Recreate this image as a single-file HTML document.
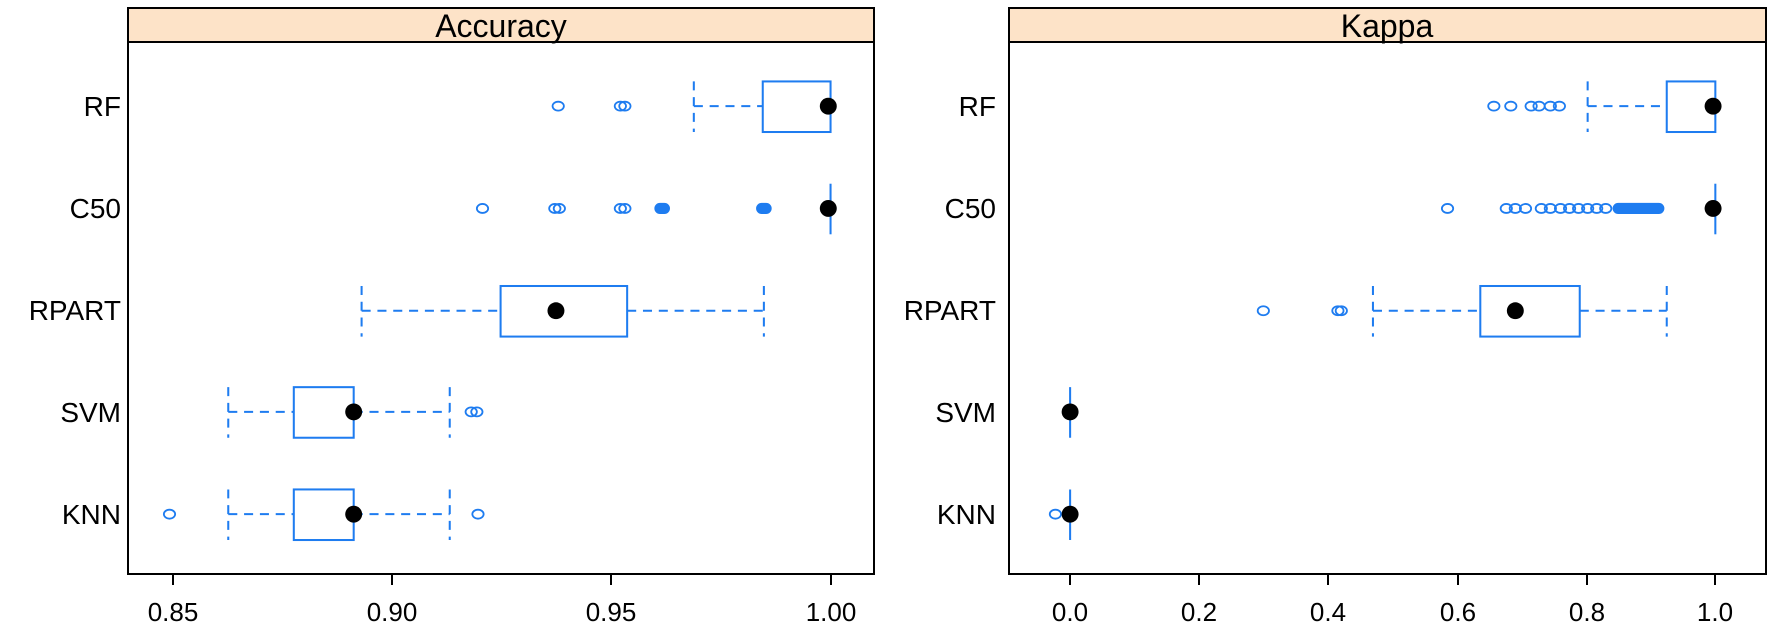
<!DOCTYPE html>
<html><head><style>body{margin:0;background:#fff;overflow:hidden}</style></head><body>
<svg width="1772" height="627" xmlns="http://www.w3.org/2000/svg" font-family="Liberation Sans, sans-serif">
<g stroke="#000" stroke-width="2" fill="none">
<rect x="128" y="8" width="746" height="566" fill="#fff"/>
<rect x="128" y="8" width="746" height="34" fill="#fde3c8"/>
<rect x="1009" y="8" width="757" height="566" fill="#fff"/>
<rect x="1009" y="8" width="757" height="34" fill="#fde3c8"/>
<path d="M173 574v11M392 574v11M611 574v11M831 574v11"/>
<path d="M1070 574v11M1199 574v11M1328 574v11M1458 574v11M1587 574v11M1715 574v11"/>
</g>
<g font-size="32" text-anchor="middle"><text x="501" y="37">Accuracy</text><text x="1387" y="37">Kappa</text></g>
<g font-size="26" text-anchor="middle">
<text x="173" y="621">0.85</text><text x="392" y="621">0.90</text><text x="611" y="621">0.95</text><text x="831" y="621">1.00</text>
<text x="1070" y="621">0.0</text><text x="1199" y="621">0.2</text><text x="1328" y="621">0.4</text><text x="1458" y="621">0.6</text><text x="1587" y="621">0.8</text><text x="1715" y="621">1.0</text>
</g>
<g font-size="28" text-anchor="end">
<text x="121" y="116">RF</text><text x="121" y="218">C50</text><text x="121" y="320">RPART</text><text x="121" y="422">SVM</text><text x="121" y="524">KNN</text>
<text x="996" y="116">RF</text><text x="996" y="218">C50</text><text x="996" y="320">RPART</text><text x="996" y="422">SVM</text><text x="996" y="524">KNN</text>
</g>
<g transform="translate(0,5) scale(1.13,1.124)">
<g stroke="#1e7cf0" stroke-width="1.8" fill="none">
<rect x="675" y="68" width="60" height="45"/>
<path d="M614 90h61" stroke-dasharray="8,6"/><path d="M614 68v45" stroke-dasharray="8,6"/>
<path d="M735 159v45"/>
<rect x="443" y="250" width="112" height="45"/>
<path d="M320 272h123M555 272h121" stroke-dasharray="8,6"/><path d="M320 250v45M676 250v45" stroke-dasharray="8,6"/>
<rect x="260" y="340" width="53" height="45"/>
<path d="M202 362h58M313 362h85" stroke-dasharray="8,6"/><path d="M202 340v45M398 340v45" stroke-dasharray="8,6"/>
<rect x="260" y="431" width="53" height="45"/>
<path d="M202 453h58M313 453h85" stroke-dasharray="8,6"/><path d="M202 431v45M398 431v45" stroke-dasharray="8,6"/>
<g stroke-width="1.6">
<ellipse cx="494" cy="90" rx="5" ry="4"/><ellipse cx="549" cy="90" rx="5" ry="4"/><ellipse cx="553" cy="90" rx="5" ry="4"/>
<ellipse cx="427" cy="181" rx="5" ry="4"/><ellipse cx="491" cy="181" rx="5" ry="4"/><ellipse cx="495" cy="181" rx="5" ry="4"/><ellipse cx="549" cy="181" rx="5" ry="4"/><ellipse cx="553" cy="181" rx="5" ry="4"/>
<ellipse cx="417" cy="362" rx="5" ry="4"/><ellipse cx="422" cy="362" rx="5" ry="4"/>
<ellipse cx="150" cy="453" rx="5" ry="4"/><ellipse cx="423" cy="453" rx="5" ry="4"/>
</g>
<rect x="580" y="177" width="12" height="8" rx="4" fill="#1e7cf0"/>
<rect x="670" y="177" width="12" height="8" rx="4" fill="#1e7cf0"/>
<rect x="1475" y="68" width="43" height="45"/>
<path d="M1405 90h70" stroke-dasharray="8,6"/><path d="M1405 68v45" stroke-dasharray="8,6"/>
<path d="M1518 159v45"/>
<rect x="1310" y="250" width="88" height="45"/>
<path d="M1215 272h95M1398 272h77" stroke-dasharray="8,6"/><path d="M1215 250v45M1475 250v45" stroke-dasharray="8,6"/>
<path d="M947 340v45M947 431v45"/>
<g stroke-width="1.6">
<ellipse cx="1322" cy="90" rx="5" ry="4"/><ellipse cx="1337" cy="90" rx="5" ry="4"/><ellipse cx="1355" cy="90" rx="5" ry="4"/><ellipse cx="1362" cy="90" rx="5" ry="4"/><ellipse cx="1372" cy="90" rx="5" ry="4"/><ellipse cx="1380" cy="90" rx="5" ry="4"/>
<ellipse cx="1281" cy="181" rx="5" ry="4"/><ellipse cx="1333" cy="181" rx="5" ry="4"/><ellipse cx="1341" cy="181" rx="5" ry="4"/><ellipse cx="1350" cy="181" rx="5" ry="4"/>
<ellipse cx="1364" cy="181" rx="5" ry="4"/><ellipse cx="1372" cy="181" rx="5" ry="4"/><ellipse cx="1381" cy="181" rx="5" ry="4"/><ellipse cx="1389" cy="181" rx="5" ry="4"/><ellipse cx="1397" cy="181" rx="5" ry="4"/><ellipse cx="1405" cy="181" rx="5" ry="4"/><ellipse cx="1413" cy="181" rx="5" ry="4"/><ellipse cx="1421" cy="181" rx="5" ry="4"/>
<ellipse cx="1118" cy="272" rx="5" ry="4"/><ellipse cx="1184" cy="272" rx="5" ry="4"/><ellipse cx="1187" cy="272" rx="5" ry="4"/>
<ellipse cx="934" cy="453" rx="5" ry="4"/>
</g>
<rect x="1428" y="177" width="44" height="8" rx="4" fill="#1e7cf0"/>
</g>
<g fill="#000">
<circle cx="733" cy="90" r="7.5"/><circle cx="733" cy="181" r="7.5"/><circle cx="492" cy="272" r="7.5"/><circle cx="313" cy="362" r="7.5"/><circle cx="313" cy="453" r="7.5"/>
<circle cx="1516" cy="90" r="7.5"/><circle cx="1516" cy="181" r="7.5"/><circle cx="1341" cy="272" r="7.5"/><circle cx="947" cy="362" r="7.5"/><circle cx="947" cy="453" r="7.5"/>
</g>
</g>
</svg>
</body></html>
